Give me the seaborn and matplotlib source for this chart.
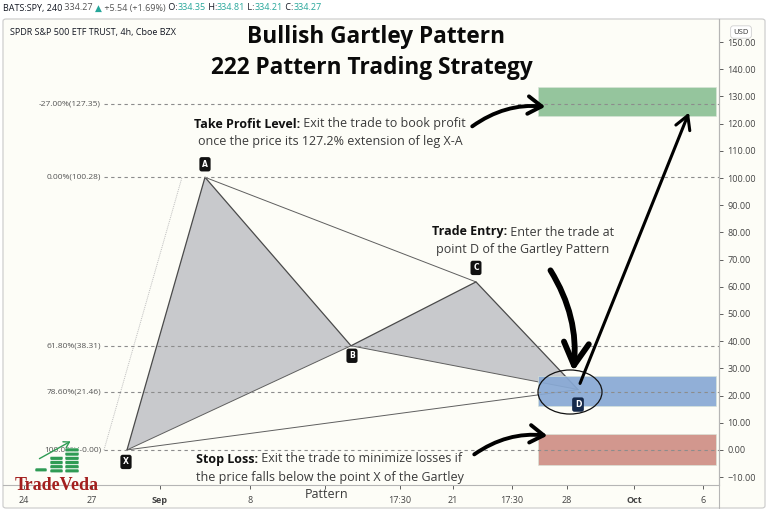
import matplotlib
matplotlib.use("Agg")
import matplotlib.pyplot as plt
import seaborn as sns
import pandas as pd
from matplotlib.patches import FancyArrowPatch, Ellipse, Rectangle, FancyBboxPatch

W, H = 768, 512

# ---------------- data ----------------
point_names = ["X", "A", "B", "C", "D"]
point_bar = [12.4, 20.2, 34.8, 47.3, 57.5]
point_price = [0.00, 100.28, 38.31, 61.80, 22.20]

fib_ratio_labels = ["-27.00%", "0.00%", "61.80%", "78.60%", "100.00%"]
fib_prices = [127.35, 100.28, 38.31, 21.46, -0.00]

zone_names = ["Take Profit", "Entry", "Stop Loss"]
zone_low = [122.8, 16.2, -5.5]
zone_high = [133.5, 27.2, 5.9]
zone_colors = ["#8cc196", "#88a9d5", "#cf8f85"]
zone_bar_start = 53.5
zone_bar_end = 71.3

x_tick_bars = [2.1, 8.9, 15.7, 24.7, 32.2, 39.7, 45.0, 50.9, 56.4, 63.1, 70.0]
x_tick_labels = ["24", "27", "Sep", "8", "14", "17:30", "21", "17:30", "28", "Oct", "6"]
price_ticks = [-10, 0, 10, 20, 30, 40, 50, 60, 70, 80, 90, 100, 110, 120, 130, 140, 150]

header_parts = [("BATS:SPY, 240", "#131722"), (" 334.27 ", "#555555"), ("\u25B2", "#26a69a"),
                (" +5.54 (+1.69%)", "#555555"), (" O:", "#131722"), ("334.35", "#26a69a"),
                (" H:", "#131722"), ("334.81", "#26a69a"), (" L:", "#131722"), ("334.21", "#26a69a"),
                (" C:", "#131722"), ("334.27", "#26a69a")]

# ---------------- style ----------------
sns.set_theme(style="white")
FONT = ["Open Sans", "DejaVu Sans"]
plt.rcParams["font.family"] = FONT

fig = plt.figure(figsize=(W / 100, H / 100), dpi=100)
fig.patch.set_facecolor("white")
R = fig.canvas.get_renderer()


def P(x, y):
    return (x / W, 1 - y / H)


# outer chart frame
frame = FancyBboxPatch(P(3, 508), 762 / W, 489 / H, boxstyle="round,pad=0,rounding_size=0.004",
                       transform=fig.transFigure, fc="#fdfdf7", ec="#c9c9c9", lw=0.8, zorder=-2)
fig.patches.append(frame)

ax = fig.add_axes([3 / W, (H - 485) / H, 716 / W, 466 / H])
ax.set_facecolor("none")
ax.set_xlim(0, 71.6)
ax.set_ylim(-12.9, 158.5)

for s in ["top", "left"]:
    ax.spines[s].set_visible(False)
for s in ["bottom", "right"]:
    ax.spines[s].set_color("#b5b5b5")
    ax.spines[s].set_linewidth(0.8)
ax.grid(False)

fig.add_artist(plt.Line2D([719 / W, 719 / W], [1 - 19 / H, 1 - 508 / H], transform=fig.transFigure,
                          color="#b5b5b5", lw=0.8))

# ---------------- zones ----------------
for lo, hi, c in zip(zone_low, zone_high, zone_colors):
    ax.add_patch(Rectangle((zone_bar_start, lo), zone_bar_end - zone_bar_start, hi - lo,
                           fc=c, ec="#d8e3d8", lw=0.5, alpha=0.92, zorder=3))

# ---------------- fib levels ----------------
fib_start = 10.1
ax.hlines(fib_prices, fib_start, 71.6, colors="#8c8c8c", linestyles=(0, (3, 3)), lw=0.8, zorder=4)
for lab, pr in zip(fib_ratio_labels, fib_prices):
    ax.text(fib_start - 0.3, pr, f"{lab}({pr:.2f})", ha="right", va="center", fontsize=6.0,
            color="#555555", zorder=6)
ax.plot([fib_start, fib_start + 7.8], [fib_prices[-1], fib_prices[1]], color="#bdbdbd",
        lw=0.7, ls=(0, (1, 1)), zorder=2)

# ---------------- Gartley pattern ----------------
pts = dict(zip(point_names, zip(point_bar, point_price)))
for tri in (["X", "A", "B"], ["B", "C", "D"]):
    ax.fill([pts[k][0] for k in tri], [pts[k][1] for k in tri], color="#c8c9cc", zorder=1, lw=0)
for a, b in (("X", "B"), ("B", "D"), ("X", "D"), ("A", "C")):
    ax.plot([pts[a][0], pts[b][0]], [pts[a][1], pts[b][1]], color="#5f5f5f", lw=0.7, zorder=2)
df = pd.DataFrame({"bar": point_bar, "price": point_price})
sns.lineplot(data=df, x="bar", y="price", sort=False, estimator=None, color="#4a4a4a", lw=0.9,
             ax=ax, zorder=2)
ax.set_xlabel("")
ax.set_ylabel("")

label_offsets = {"X": (-1, -12), "A": (0, 13), "B": (1, -10), "C": (0, 14), "D": (0, -15)}
for name in point_names:
    fc = "#15294a" if name == "D" else "#111111"
    ax.annotate(name, pts[name], xytext=label_offsets[name], textcoords="offset pixels",
                ha="center", va="center", fontsize=5.5, fontweight="bold", color="white",
                family="DejaVu Sans", zorder=7,
                bbox=dict(boxstyle="round,pad=0.35,rounding_size=0.3", fc=fc, ec="none"))

ax.add_patch(Ellipse((56.7, 21.3), 6.4, 16.2, fill=False, ec="#111111", lw=0.9, zorder=7))

# ---------------- axes ticks ----------------
ax.yaxis.tick_right()
ax.set_yticks(price_ticks)
ax.set_yticklabels([f"{v:.2f}" if v >= 0 else f"\u2212{abs(v):.2f}" for v in price_ticks])
ax.tick_params(axis="y", which="both", direction="out", length=3, width=0.6, pad=3,
               labelsize=6.5, colors="#444444", right=True, left=False)
ax.set_xticks(x_tick_bars)
ax.set_xticklabels(x_tick_labels)
ax.tick_params(axis="x", direction="out", length=3, width=0.6, pad=5, labelsize=6.5,
               colors="#444444", bottom=True)
for t in ax.get_xticklabels():
    if t.get_text() in ("Sep", "Oct"):
        t.set_fontweight("bold")
    if t.get_text() == "14":
        # hidden under the "Pattern" annotation in the reference
        t.set_visible(False)

# ---------------- texts ----------------
def seq_text(x, y, parts, size, weight_default="normal"):
    cur = x
    for part in parts:
        s, color = part[0], part[1]
        weight = part[2] if len(part) > 2 else weight_default
        t = fig.text(cur / W, 1 - y / H, s, fontsize=size, color=color, fontweight=weight,
                     family=FONT, ha="left", va="center", zorder=8)
        cur = t.get_window_extent(R).x1
    return cur


seq_text(3, 8, header_parts, 6.5)
fig.text(10 / W, 1 - 33 / H, "SPDR S&P 500 ETF TRUST, 4h, Cboe BZX", fontsize=6.5,
         color="#131722", ha="left", va="center")

fig.text(376 / W, 1 - 37 / H, "Bullish Gartley Pattern", fontsize=16.3, fontweight="bold",
         color="#0a0a0a", ha="center", va="center")
fig.text(372 / W, 1 - 68 / H, "222 Pattern Trading Strategy", fontsize=16.3, fontweight="bold",
         color="#0a0a0a", ha="center", va="center")

fig.text(741 / W, 1 - 32 / H, "USD", fontsize=5.5, color="#333333", ha="center", va="center",
         bbox=dict(boxstyle="round,pad=0.35", fc="white", ec="#d0d0d0", lw=0.6))

TS = 9.0
dark = "#111111"
body = "#3a3a3a"
seq_text(194, 124, [("Take Profit Level:", dark, "bold"), (" Exit the trade to book profit", body)], TS)
seq_text(198, 142, [("once the price its 127.2% extension of leg X-A", body)], TS)
seq_text(432, 232, [("Trade Entry:", dark, "bold"), (" Enter the trade at", body)], TS)
seq_text(436, 250, [("point D of the Gartley Pattern", body)], TS)
seq_text(196, 459, [("Stop Loss:", dark, "bold"), (" Exit the trade to minimize losses if", body)], TS)
seq_text(196, 477, [("the price falls below the point X of the Gartley", body)], TS)
seq_text(305, 494, [("Pattern", body)], TS)

# ---------------- arrows ----------------
def arrow(p0, p1, rad, lw, ms, hl, hw):
    a = FancyArrowPatch(P(*p0), P(*p1), transform=fig.transFigure,
                        connectionstyle=f"arc3,rad={rad}",
                        arrowstyle=f"->,head_length={hl},head_width={hw}",
                        mutation_scale=ms, lw=lw, color="black", capstyle="round",
                        joinstyle="round", zorder=9)
    fig.patches.append(a)


arrow((470, 128), (548, 107), -0.2, 2.8, 14, 0.7, 0.45)
arrow((472, 456), (550, 436), -0.2, 2.8, 14, 0.7, 0.45)
arrow((549, 268), (573, 374), -0.18, 4.2, 18, 0.9, 0.5)
arrow((579, 386), (690, 110), 0.0, 2.2, 12, 0.8, 0.45)

# ---------------- logo ----------------
def coin(x, y, w, h=3.8):
    fig.patches.append(FancyBboxPatch(P(x, y + h), w / W, h / H,
                                      boxstyle="round,pad=0,rounding_size=0.002",
                                      transform=fig.transFigure, fc="#2f9b54", ec="white",
                                      lw=0.4, zorder=5))


for i in range(1):
    coin(35, 468 - i * 4, 12)
for i in range(4):
    coin(50, 469 - i * 4.2, 13)
for i in range(6):
    coin(65, 469 - i * 4.2, 14)
fig.patches.append(FancyArrowPatch(P(37, 460), P(73, 440), transform=fig.transFigure,
                                   arrowstyle="->,head_length=0.5,head_width=0.3",
                                   mutation_scale=8, lw=1.0, color="#2f9b54", zorder=5))
fig.text(57 / W, 1 - 486 / H, "TradeVeda", fontsize=13, fontweight="bold", color="#a31f1e",
         family=["Liberation Serif", "DejaVu Serif"], ha="center", va="center", zorder=6)

fig.savefig("out.png", dpi=100, facecolor=fig.get_facecolor())
